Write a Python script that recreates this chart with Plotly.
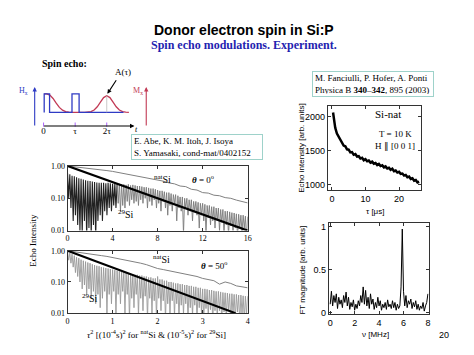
import numpy as np
import plotly.graph_objects as go

W, H = 474, 355

# ---------------- data ----------------
# spin-echo schematic (time in units of tau)
pulse_t = [0.02, 0.02, 0.19, 0.19, 0.90, 0.90, 1.125, 1.125, 2.53]
pulse_h = [0, 1, 1, 0, 0, 1, 1, 0, 0]
echo_t = [0.02, 0.1, 0.2, 0.3, 0.4, 0.5, 0.6, 0.7, 0.8, 0.9, 1.3, 1.4, 1.5, 1.6, 1.7, 1.8,
          1.9, 2.0, 2.1, 2.2, 2.3, 2.4, 2.5, 2.6, 2.7]
echo_m = [1.0, 1.0, 0.93, 0.75, 0.5, 0.27, 0.12, 0.04, 0.01, 0.0, 0.0, 0.01, 0.04, 0.13, 0.3,
          0.55, 0.8, 0.9, 0.8, 0.55, 0.3, 0.13, 0.04, 0.01, 0.0]
time_ticks = [0, 1, 2]
time_labels = ["0", "τ", "2τ"]

# theta = 0 deg panel
nat0_x_step = 0.5
nat0_y = [1.00, 0.96, 0.93, 0.89, 0.85, 0.81, 0.76, 0.72, 0.68, 0.63, 0.59, 0.55, 0.50,
          0.47, 0.43, 0.39, 0.36, 0.34, 0.30, 0.28, 0.24, 0.23, 0.19, 0.18, 0.15, 0.145,
          0.125, 0.12, 0.105, 0.10, 0.088, 0.08, 0.072]
fit0_x = [0, 16]
fit0_y = [1.0, 0.01]
si29_0_step = 0.1
si29_0_y = [
    0.60, 0.10, 0.55, 0.05, 0.50, 0.02, 0.48, 0.03, 0.45, 0.015,
    0.42, 0.01, 0.40, 0.008, 0.38, 0.02, 0.36, 0.006, 0.35, 0.012,
    0.34, 0.007, 0.33, 0.015, 0.32, 0.006, 0.31, 0.02, 0.30, 0.03,
    0.30, 0.02, 0.30, 0.04, 0.29, 0.03, 0.30, 0.05, 0.29, 0.04,
    0.28, 0.06, 0.28, 0.05, 0.27, 0.07, 0.28, 0.04, 0.27, 0.06,
    0.27, 0.05, 0.26, 0.08, 0.27, 0.06, 0.25, 0.09, 0.26, 0.07,
    0.25, 0.08, 0.24, 0.06, 0.24, 0.09, 0.23, 0.07, 0.22, 0.10,
    0.22, 0.05, 0.21, 0.08, 0.20, 0.06, 0.20, 0.09, 0.19, 0.05,
    0.18, 0.07, 0.17, 0.04, 0.17, 0.08, 0.16, 0.05, 0.15, 0.03,
    0.15, 0.06, 0.14, 0.04, 0.13, 0.07, 0.13, 0.02, 0.12, 0.05,
    0.11, 0.04, 0.11, 0.008, 0.10, 0.05, 0.10, 0.03, 0.09, 0.04,
    0.09, 0.02, 0.08, 0.04, 0.08, 0.03, 0.075, 0.012, 0.07, 0.03,
    0.07, 0.02, 0.065, 0.008, 0.06, 0.025, 0.06, 0.015, 0.055, 0.02,
    0.055, 0.012, 0.05, 0.02, 0.05, 0.01, 0.045, 0.018, 0.045, 0.008,
    0.04, 0.015, 0.04, 0.007, 0.038, 0.014, 0.036, 0.01, 0.035, 0.012,
    0.033, 0.006, 0.032, 0.012, 0.03, 0.009, 0.03, 0.012, 0.028, 0.005,
    0.027]

# theta = 50 deg panel
nat50_step = 0.125
nat50_y = [1.0, 0.95, 0.90, 0.85, 0.80, 0.75, 0.70, 0.66, 0.61, 0.57, 0.52, 0.48, 0.44,
           0.40, 0.36, 0.31, 0.27, 0.25, 0.23, 0.21, 0.19, 0.18, 0.16, 0.15, 0.13, 0.12,
           0.11, 0.085, 0.10, 0.09, 0.075, 0.07, 0.065]
fit50_x = [0, 3.73]
fit50_y = [1.0, 0.01]
si29_50_step = 0.025
si29_50_y = [
    0.90, 0.50, 0.85, 0.40, 0.78, 0.30, 0.70, 0.20, 0.62, 0.15,
    0.58, 0.10, 0.52, 0.06, 0.48, 0.08, 0.45, 0.04, 0.42, 0.06,
    0.40, 0.03, 0.37, 0.05, 0.35, 0.02, 0.33, 0.04, 0.32, 0.015,
    0.30, 0.03, 0.29, 0.05, 0.28, 0.01, 0.27, 0.04, 0.26, 0.02,
    0.25, 0.05, 0.24, 0.008, 0.23, 0.04, 0.22, 0.02, 0.21, 0.05,
    0.21, 0.01, 0.20, 0.04, 0.19, 0.006, 0.19, 0.03, 0.18, 0.015,
    0.17, 0.04, 0.17, 0.008, 0.16, 0.03, 0.16, 0.012, 0.15, 0.035,
    0.15, 0.006, 0.14, 0.03, 0.14, 0.01, 0.13, 0.025, 0.13, 0.007,
    0.15, 0.03, 0.12, 0.012, 0.12, 0.025, 0.11, 0.006, 0.11, 0.02,
    0.10, 0.01, 0.10, 0.025, 0.095, 0.008, 0.09, 0.02, 0.09, 0.006,
    0.085, 0.018, 0.085, 0.009, 0.08, 0.02, 0.08, 0.006, 0.075, 0.015,
    0.075, 0.008, 0.07, 0.018, 0.07, 0.006, 0.065, 0.015, 0.065, 0.01,
    0.06, 0.006, 0.06, 0.014, 0.058, 0.008, 0.055, 0.013, 0.055, 0.005,
    0.052, 0.012, 0.05, 0.007, 0.05, 0.012, 0.048, 0.005, 0.046, 0.011,
    0.045, 0.007, 0.044, 0.012, 0.042, 0.005, 0.042, 0.01, 0.04, 0.006,
    0.04, 0.011, 0.038, 0.005, 0.038, 0.01, 0.036, 0.006, 0.035, 0.009,
    0.035]

# Si-nat echo decay (Fanciulli et al.)
decay_t = [0.35, 0.5, 1.0, 1.5, 2.0, 2.5, 3.0, 3.5, 4.0, 4.5, 5.0, 5.5, 6.0, 6.5, 7.0, 7.5,
           8.0, 8.5, 9.0, 9.5, 10.0, 10.5, 11.0, 11.5, 12.0, 12.5, 13.0, 13.5, 14.0, 14.5,
           15.0, 15.5, 16.0, 16.5, 17.0, 17.5, 18.0, 18.5, 19.0, 19.5, 20.0, 20.5, 21.0,
           21.5, 22.0, 22.5, 23.0, 23.5, 24.0, 24.5, 25.0, 25.5, 26.0]
decay_i = [2060, 2000, 1835, 1750, 1710, 1650, 1625, 1575, 1565, 1520, 1515, 1475, 1480,
           1440, 1450, 1415, 1420, 1385, 1395, 1360, 1375, 1345, 1355, 1325, 1340, 1310,
           1320, 1290, 1305, 1275, 1285, 1255, 1270, 1240, 1250, 1220, 1235, 1200, 1210,
           1180, 1190, 1160, 1165, 1135, 1145, 1110, 1120, 1085, 1095, 1060, 1070, 1035, 1045]

# FT magnitude
ft_step = 0.1
ft_mag = [0.10, 0.25, 0.08, 0.20, 0.12, 0.22, 0.05, 0.18, 0.10, 0.15,
          0.06, 0.20, 0.12, 0.24, 0.08, 0.18, 0.04, 0.12, 0.07, 0.15,
          0.03, 0.10, 0.05, 0.14, 0.08, 0.20, 0.12, 0.30, 0.10, 0.26,
          0.08, 0.18, 0.05, 0.22, 0.10, 0.16, 0.04, 0.12, 0.06, 0.18,
          0.08, 0.14, 0.03, 0.10, 0.06, 0.12, 0.04, 0.15, 0.07, 0.10,
          0.05, 0.14, 0.06, 0.12, 0.03, 0.10, 0.05, 0.08, 0.30, 0.97,
          0.25, 0.08, 0.20, 0.06, 0.14, 0.10, 0.16, 0.05, 0.12, 0.07,
          0.14, 0.04, 0.10, 0.03, 0.08, 0.05, 0.12, 0.02, 0.08, 0.12,
          0.22]

# ---------------- helpers ----------------
def fx(p):
    return p / W


def fy(p):
    return 1 - p / H


SERIF = "Liberation Serif"
SANS = "Liberation Sans"
BLUE = "#2f3bc4"
RED = "#c23a55"

fig = go.Figure()

# schematic (x1/y1)
fig.add_trace(go.Scatter(x=echo_t, y=echo_m, mode="lines", line=dict(color=RED, width=1.3),
                         xaxis="x", yaxis="y", hoverinfo="skip"))
fig.add_trace(go.Scatter(x=pulse_t, y=pulse_h, mode="lines", line=dict(color=BLUE, width=1.3),
                         xaxis="x", yaxis="y", hoverinfo="skip"))
fig.add_trace(go.Scatter(x=[2.0, 2.0], y=[0, 0.9], mode="lines", line=dict(color="#bbbbbb", width=0.8),
                         xaxis="x", yaxis="y", hoverinfo="skip"))
fig.add_trace(go.Scatter(x=time_ticks, y=[-0.66] * 3, mode="markers",
                         marker=dict(symbol="line-ns-open", size=3, line=dict(color="black", width=1)),
                         xaxis="x", yaxis="y", hoverinfo="skip", cliponaxis=False))
fig.add_trace(go.Scatter(x=time_ticks, y=[-1.05] * 3, mode="text", text=time_labels,
                         textfont=dict(family=SERIF, size=9, color="black"),
                         xaxis="x", yaxis="y", hoverinfo="skip", cliponaxis=False))

# theta = 0 panel (x2/y2)
nat0_x = np.arange(len(nat0_y)) * nat0_x_step
si29_0_x = np.arange(len(si29_0_y)) * si29_0_step
fig.add_trace(go.Scatter(x=si29_0_x[:45], y=si29_0_y[:45], mode="lines",
                         line=dict(color="#222222", width=1.1), xaxis="x2", yaxis="y2", hoverinfo="skip"))
fig.add_trace(go.Scatter(x=si29_0_x[44:], y=si29_0_y[44:], mode="lines",
                         line=dict(color="#7a7a7a", width=0.9), xaxis="x2", yaxis="y2", hoverinfo="skip"))
fig.add_trace(go.Scatter(x=nat0_x, y=nat0_y, mode="lines", line=dict(color="#808080", width=1),
                         xaxis="x2", yaxis="y2", hoverinfo="skip"))
fig.add_trace(go.Scatter(x=fit0_x, y=fit0_y, mode="lines", line=dict(color="black", width=2.2),
                         xaxis="x2", yaxis="y2", hoverinfo="skip"))

# theta = 50 panel (x3/y3)
nat50_x = np.arange(len(nat50_y)) * nat50_step
si29_50_x = np.arange(len(si29_50_y)) * si29_50_step
fig.add_trace(go.Scatter(x=si29_50_x, y=si29_50_y, mode="lines",
                         line=dict(color="#999999", width=0.9), xaxis="x3", yaxis="y3", hoverinfo="skip"))
fig.add_trace(go.Scatter(x=nat50_x, y=nat50_y, mode="lines", line=dict(color="#808080", width=1),
                         xaxis="x3", yaxis="y3", hoverinfo="skip"))
fig.add_trace(go.Scatter(x=fit50_x, y=fit50_y, mode="lines", line=dict(color="black", width=2.2),
                         xaxis="x3", yaxis="y3", hoverinfo="skip"))

# echo decay (x4/y4)
fig.add_trace(go.Scatter(x=decay_t, y=decay_i, mode="lines", line=dict(color="black", width=2.5),
                         xaxis="x4", yaxis="y4", hoverinfo="skip"))

# FT (x5/y5)
ft_x = np.arange(len(ft_mag)) * ft_step
fig.add_trace(go.Scatter(x=ft_x, y=ft_mag, mode="lines", line=dict(color="black", width=1),
                         xaxis="x5", yaxis="y5", hoverinfo="skip"))


def frame_axis(domain, rng, anchor, font, size, **kw):
    d = dict(domain=domain, range=rng, anchor=anchor, showgrid=False, zeroline=False,
             showline=True, mirror="ticks", linecolor="#333333", linewidth=1,
             ticks="inside", ticklen=3, tickcolor="#333333",
             tickfont=dict(family=font, size=size, color="black"))
    d.update(kw)
    return d


hidden = dict(visible=False, showgrid=False, zeroline=False)

layout = dict(
    width=W, height=H, margin=dict(l=0, r=0, t=0, b=0),
    paper_bgcolor="white", plot_bgcolor="white", showlegend=False,
    xaxis=dict(domain=[fx(5), fx(145)], range=[-0.906, 3.469], anchor="y", **hidden),
    yaxis=dict(domain=[fy(125), fy(55)], range=[-1.158, 2.526], anchor="x", **hidden),
    xaxis2=frame_axis([fx(58.3), fx(240.7)], [0, 16], "y2", SERIF, 8,
                      tickvals=[0, 4, 8, 12, 16]),
    yaxis2=frame_axis([fy(224.3), fy(158)], [-2, 0], "x2", SERIF, 8, type="log",
                      tickvals=[0.01, 0.1, 1], ticktext=["0.01", "0.10", "1.00"]),
    xaxis3=frame_axis([fx(58.3), fx(240.7)], [0, 4], "y3", SERIF, 8,
                      tickvals=[0, 1, 2, 3, 4]),
    yaxis3=frame_axis([fy(309), fy(245)], [-2, 0], "x3", SERIF, 8, type="log",
                      tickvals=[0.01, 0.1, 1], ticktext=["0.01", "0.10", "1.00"]),
    xaxis4=frame_axis([fx(322), fx(416)], [-1.18, 26.47], "y4", SANS, 9,
                      tickvals=[0, 10, 20]),
    yaxis4=frame_axis([fy(183), fy(96)], [919, 2161], "x4", SANS, 9,
                      tickvals=[1000, 1500, 2000]),
    xaxis5=frame_axis([fx(323), fx(424)], [-0.105, 8.057], "y5", SANS, 9,
                      tickvals=[0, 2, 4, 6, 8]),
    yaxis5=frame_axis([fy(310), fy(217)], [-0.015, 1.034], "x5", SANS, 9,
                      tickvals=[0, 0.5, 1], ticktext=["0", "0.5", "1"]),
)
fig.update_layout(**layout)

ann = []


def paper_text(x, y, text, size, family=SERIF, color="black", angle=0, **kw):
    a = dict(x=fx(x), y=fy(y), xref="paper", yref="paper", text=text, showarrow=False,
             font=dict(family=family, size=size, color=color), textangle=angle,
             xanchor="center", yanchor="middle")
    a.update(kw)
    ann.append(a)


def data_text(xr, yr, x, y, text, size, family=SERIF, color="black", **kw):
    a = dict(x=x, y=y, xref=xr, yref=yr, text=text, showarrow=False,
             font=dict(family=family, size=size, color=color), xanchor="center", yanchor="middle")
    a.update(kw)
    ann.append(a)


# titles
paper_text(237, 18, "<b>Donor electron spin in Si:P</b>", 14, family=SANS)
paper_text(237, 33.5, "<b>Spin echo modulations. Experiment.</b>", 12, color="#1f23b0")
paper_text(55, 53, "<b>Spin echo:</b>", 10)

# schematic texts and arrows
data_text("x", "y", -0.63, 1.16, "H<sub>x</sub>", 8, color=BLUE)
data_text("x", "y", 2.98, 1.16, "M<sub>x</sub>", 8, color=RED)
data_text("x", "y", 2.95, -0.92, "<i>t</i>", 8)
data_text("x", "y", 2.5, 2.16, "A(τ)", 9)
for (hx, hy, tx, ty, col) in [(-0.281, 1.37, -0.281, -0.79, BLUE),
                              (3.25, 1.37, 3.25, -0.79, RED),
                              (2.875, -0.737, -0.031, -0.737, "black"),
                              (2.02, 1.0, 2.33, 1.82, "black")]:
    ann.append(dict(x=hx, y=hy, ax=tx, ay=ty, xref="x", yref="y", axref="x", ayref="y",
                    showarrow=True, arrowhead=2, arrowsize=0.8, arrowwidth=1.1,
                    arrowcolor=col, text=""))

# reference boxes
paper_text(189, 138, "E. Abe, K. M. Itoh, J. Isoya<br>S. Yamasaki, cond-mat/0402152", 9,
           align="left", bordercolor="#9ed2ca", borderwidth=1, borderpad=2, bgcolor="white",
           width=126, height=20)
paper_text(368, 74, "M. Fanciulli, P. Hofer, A. Ponti<br>Physica B <b>340</b>–<b>342</b>, 895 (2003)", 9,
           align="left", bordercolor="#9ed2ca", borderwidth=1, borderpad=2, bgcolor="white",
           width=116, height=20)

# left panel labels
data_text("x2", "y2", 8.4, np.log10(0.40), "<sup>nat</sup>Si", 10)
data_text("x2", "y2", 12.0, np.log10(0.40), "<b><i>θ</i></b> = 0<sup>o</sup>", 9)
data_text("x2", "y2", 5.15, np.log10(0.032), "<sup>29</sup>Si", 10)
data_text("x3", "y3", 2.08, np.log10(0.55), "<sup>nat</sup>Si", 10)
data_text("x3", "y3", 3.26, np.log10(0.34), "<b><i>θ</i></b> = 50<sup>o</sup>", 9)
data_text("x3", "y3", 0.5, np.log10(0.03), "<sup>29</sup>Si", 10)
paper_text(23, 234, "Echo Intensity", 9, angle=-90)
paper_text(148, 330, "<i>τ</i><sup>2</sup> [(10<sup>-4</sup>s)<sup>2</sup> for <sup>nat</sup>Si &amp; "
           "(10<sup>-5</sup>s)<sup>2</sup> for <sup>29</sup>Si]", 9)

# right panel labels
paper_text(383, 105, "Si-nat", 11)
paper_text(390, 125, "T = 10 K", 9)
paper_text(390, 137.5, "H ∥ [0 0 1]", 9)
paper_text(295, 140, "Echo intensity [arb. units]", 8, family=SANS, angle=-90)
paper_text(370, 205, "τ [μs]", 8, family=SANS)
paper_text(296, 265, "FT magnitude [arb. units]", 8, family=SANS, angle=-90)
paper_text(370, 331, "ν [MHz]", 8, family=SANS)
paper_text(440, 331, "20", 9, family=SANS)

fig.update_layout(annotations=ann)
fig.write_html("out.html")
